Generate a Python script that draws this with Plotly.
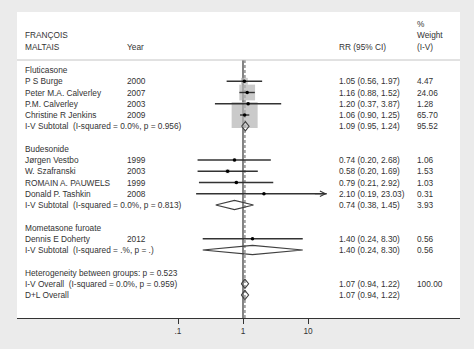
import math
import plotly.graph_objects as go

# ---------------- data ----------------
row_labels = [
    "Fluticasone", "P S Burge", "Peter M.A. Calverley", "P.M. Calverley", "Christine R Jenkins",
    "I-V Subtotal  (I-squared = 0.0%, p = 0.956)", "",
    "Budesonide", "Jørgen Vestbo", "W. Szafranski", "ROMAIN A. PAUWELS", "Donald P. Tashkin",
    "I-V Subtotal  (I-squared = 0.0%, p = 0.813)", "",
    "Mometasone furoate", "Dennis E Doherty", "I-V Subtotal  (I-squared = .%, p = .)", "",
    "Heterogeneity between groups: p = 0.523",
    "I-V Overall  (I-squared = 0.0%, p = 0.959)", "D+L Overall",
]
row_years = ["", "2000", "2007", "2003", "2009", "", "",
             "", "1999", "2003", "1999", "2008", "", "",
             "", "2012", "", "", "", "", ""]
row_rr_text = ["", "1.05 (0.56, 1.97)", "1.16 (0.88, 1.52)", "1.20 (0.37, 3.87)", "1.06 (0.90, 1.25)",
               "1.09 (0.95, 1.24)", "",
               "", "0.74 (0.20, 2.68)", "0.58 (0.20, 1.69)", "0.79 (0.21, 2.92)", "2.10 (0.19, 23.03)",
               "0.74 (0.38, 1.45)", "",
               "", "1.40 (0.24, 8.30)", "1.40 (0.24, 8.30)", "", "",
               "1.07 (0.94, 1.22)", "1.07 (0.94, 1.22)"]
row_weight_text = ["", "4.47", "24.06", "1.28", "65.70", "95.52", "",
                   "", "1.06", "1.53", "1.03", "0.31", "3.93", "",
                   "", "0.56", "0.56", "", "", "100.00", ""]

# individual studies
study_rows = [1, 2, 3, 4, 8, 9, 10, 11, 15]
study_rr = [1.05, 1.16, 1.20, 1.06, 0.74, 0.58, 0.79, 2.10, 1.40]
study_lo = [0.56, 0.88, 0.37, 0.90, 0.20, 0.20, 0.21, 0.19, 0.24]
study_hi = [1.97, 1.52, 3.87, 1.25, 2.68, 1.69, 2.92, 23.03, 8.30]
study_w = [4.47, 24.06, 1.28, 65.70, 1.06, 1.53, 1.03, 0.31, 0.56]

# pooled estimates (diamonds)
pool_rows = [5, 12, 16, 19, 20]
pool_rr = [1.09, 0.74, 1.40, 1.07, 1.07]
pool_lo = [0.95, 0.38, 0.24, 0.94, 0.94]
pool_hi = [1.24, 1.45, 8.30, 1.22, 1.22]

overall_rr = 1.07
null_value = 1.0
x_tick_vals = [0.1, 1, 10]
x_tick_text = [".1", "1", "10"]
x_max_shown = 19.4  # clip point for arrows

# ---------------- layout geometry ----------------
W, H = 474, 349
ML, MR, MT, MB = 17, 14, 12, 31
row_px0, row_step = 70.0, 11.25
plot_top, plot_bot = MT, H - MB
y_top = (plot_top - row_px0) / row_step
y_bot = (plot_bot - row_px0) / row_step
sep_row = (60 - row_px0) / row_step

px_one = 243.0
px_dec = 65.0
x_lo = (ML - px_one) / px_dec
x_hi = ((W - MR) - px_one) / px_dec

def paper_x(px):
    return (px - ML) / (W - ML - MR)

def prow(py):
    return (py - row_px0) / row_step

TXT = "#333333"
FONT = "Liberation Sans, Arial, sans-serif"
FS = 8.3

fig = go.Figure()

# vertical reference lines
fig.add_trace(go.Scatter(x=[null_value, null_value], y=[sep_row, y_bot], mode="lines",
                         line=dict(color="#333333", width=1.2), hoverinfo="skip", showlegend=False))
fig.add_trace(go.Scatter(x=[overall_rr, overall_rr], y=[sep_row, y_bot], mode="lines",
                         line=dict(color="#999999", width=1.6, dash="3px,2px"),
                         hoverinfo="skip", showlegend=False))

# weight squares
fig.add_trace(go.Scatter(
    x=study_rr, y=study_rows, mode="markers",
    marker=dict(symbol="square", color="#b3b3b3",
                size=[26 * math.sqrt(w / max(study_w)) for w in study_w], line=dict(width=0)),
    hoverinfo="skip", showlegend=False))

# confidence intervals
ci_x, ci_y = [], []
for r, lo, hi in zip(study_rows, study_lo, study_hi):
    ci_x += [lo, min(hi, x_max_shown), None]
    ci_y += [r, r, None]
fig.add_trace(go.Scatter(x=ci_x, y=ci_y, mode="lines", line=dict(color="#333333", width=1.4),
                         hoverinfo="skip", showlegend=False))

# arrows where CI exceeds the axis
for r, lo, hi in zip(study_rows, study_lo, study_hi):
    if hi > x_max_shown:
        fig.add_annotation(x=math.log10(x_max_shown), y=r, ax=math.log10(x_max_shown / 1.6), ay=r,
                           xref="x", yref="y", axref="x", ayref="y", text="", showarrow=True,
                           arrowhead=5, arrowsize=1.0, arrowwidth=1.1, arrowcolor="#333333")

# point estimates
fig.add_trace(go.Scatter(x=study_rr, y=study_rows, mode="markers",
                         marker=dict(symbol="circle", color="black", size=3.5),
                         hoverinfo="skip", showlegend=False))

# diamonds
h = 0.41
dx, dy = [], []
for r, est, lo, hi in zip(pool_rows, pool_rr, pool_lo, pool_hi):
    dx += [lo, est, hi, est, lo, None]
    dy += [r, r - h, r, r + h, r, None]
fig.add_trace(go.Scatter(x=dx, y=dy, mode="lines", line=dict(color="#404040", width=1.1),
                         hoverinfo="skip", showlegend=False))

# ---------------- text columns ----------------
def txt(x_px, row, s):
    if s:
        fig.add_annotation(x=paper_x(x_px), y=row, xref="paper", yref="y", text=s,
                           showarrow=False, xanchor="left", yanchor="middle",
                           font=dict(family=FONT, size=FS, color=TXT))

col_name, col_year, col_rr, col_w = 22.5, 124.5, 336.5, 415
for i in range(len(row_labels)):
    txt(col_name, i, row_labels[i])
    txt(col_year, i, row_years[i])
    txt(col_rr, i, row_rr_text[i])
    txt(col_w, i, row_weight_text[i])

# header
txt(col_name, prow(35), "FRANÇOIS")
txt(col_name, prow(46.7), "MALTAIS")
txt(col_year, prow(46.7), "Year")
txt(col_rr, prow(46.7), "RR (95% CI)")
txt(col_w, prow(23.5), "%")
txt(col_w, prow(35), "Weight")
txt(col_w, prow(46.7), "(I-V)")

# header separator
fig.add_shape(type="line", xref="paper", yref="y", x0=0, x1=1, y0=sep_row, y1=sep_row,
              line=dict(color="#c4c4c4", width=1))

fig.update_layout(
    width=W, height=H,
    margin=dict(l=ML, r=MR, t=MT, b=MB, pad=0),
    paper_bgcolor="#ebebeb", plot_bgcolor="white",
    xaxis=dict(type="log", range=[x_lo, x_hi], tickvals=x_tick_vals, ticktext=x_tick_text,
               ticks="outside", ticklen=5, tickwidth=1, tickcolor="#333333",
               showline=True, linecolor="#333333", linewidth=1.3, showgrid=False, zeroline=False,
               tickfont=dict(family=FONT, size=8.3, color=TXT)),
    yaxis=dict(range=[y_bot, y_top], visible=False, showgrid=False, zeroline=False),
    showlegend=False,
)

fig.write_html("out.html")
